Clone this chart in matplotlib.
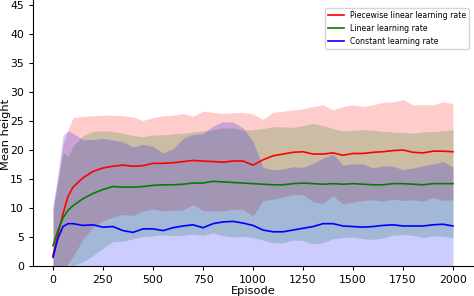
"""
Mean height per episode for three learning-rate schedules, mean +/- std bands.
"""
import matplotlib.pyplot as plt
import numpy as np

episodes = [0, 25, 50, 75, 100, 150, 200, 250, 300, 350, 400, 450, 500, 550, 600,
            650, 700, 750, 800, 850, 900, 950, 1000, 1050, 1100, 1150, 1200, 1250,
            1300, 1350, 1400, 1450, 1500, 1550, 1600, 1650, 1700, 1750, 1800, 1850,
            1900, 1950, 2000]

piecewise_mean = [1.8, 5.5, 9.0, 12.0, 13.6, 15.2, 16.3, 16.9, 17.2, 17.4, 17.2, 17.3,
                  17.7, 17.7, 17.8, 18.0, 18.2, 18.1, 18.0, 17.9, 18.1, 18.1, 17.4,
                  18.3, 19.0, 19.3, 19.6, 19.7, 19.3, 19.3, 19.5, 19.1, 19.4, 19.4,
                  19.6, 19.7, 19.9, 20.0, 19.6, 19.5, 19.8, 19.8, 19.7]
piecewise_std = [8.0, 9.5, 12.0, 11.5, 12.0, 10.6, 9.6, 9.1, 8.8, 8.5, 8.5, 7.8, 7.9,
                 8.2, 8.2, 8.3, 7.6, 8.6, 8.5, 8.4, 8.3, 8.4, 8.8, 7.0, 7.5, 7.4, 7.3,
                 7.4, 8.2, 8.5, 7.4, 8.4, 8.4, 8.1, 8.2, 8.5, 8.4, 8.7, 8.2, 8.3, 8.0,
                 8.5, 8.3]

linear_mean = [3.5, 6.2, 8.3, 9.6, 10.4, 11.6, 12.5, 13.2, 13.7, 13.6, 13.6, 13.7, 13.9,
               14.0, 14.0, 14.1, 14.3, 14.3, 14.6, 14.5, 14.4, 14.3, 14.2, 14.1, 14.0,
               14.0, 14.2, 14.3, 14.2, 14.1, 14.2, 14.1, 14.2, 14.1, 14.0, 14.0, 14.2,
               14.2, 14.1, 14.0, 14.2, 14.2, 14.2]
linear_std = [6.0, 8.5, 11.2, 9.3, 10.3, 10.9, 10.7, 10.1, 9.5, 9.3, 8.9, 8.6, 8.7, 8.6,
              8.8, 8.8, 8.8, 9.0, 8.9, 9.3, 9.4, 9.2, 9.3, 9.6, 10.0, 10.0, 9.7, 9.9,
              10.4, 10.1, 9.5, 9.2, 9.2, 9.4, 9.4, 9.2, 8.9, 8.8, 8.8, 9.1, 9.0, 9.1, 9.3]

constant_mean = [1.5, 4.8, 6.8, 7.3, 7.3, 7.0, 7.1, 6.7, 6.8, 6.1, 5.8, 6.4, 6.4, 6.1,
                 6.6, 6.9, 7.1, 6.6, 7.3, 7.6, 7.7, 7.4, 7.0, 6.2, 5.9, 5.9, 6.2, 6.5,
                 6.8, 7.3, 7.3, 6.9, 6.8, 6.7, 6.8, 7.0, 7.1, 6.9, 6.9, 6.9, 7.1, 7.2, 6.9]
constant_std = [9.0, 11.2, 15.7, 16.0, 15.6, 14.8, 14.7, 15.3, 14.9, 15.3, 14.7, 14.6,
                14.2, 13.4, 13.6, 15.1, 15.6, 16.2, 16.8, 17.3, 17.1, 16.4, 14.5, 10.8,
                10.7, 10.8, 10.9, 10.5, 10.9, 11.3, 12.0, 10.5, 10.8, 10.9, 10.1, 10.3,
                10.1, 9.7, 10.0, 10.4, 10.5, 10.8, 10.2]

series = [
    ("Piecewise linear learning rate", piecewise_mean, piecewise_std, "red"),
    ("Linear learning rate", linear_mean, linear_std, "green"),
    ("Constant learning rate", constant_mean, constant_std, "blue"),
]

fig = plt.figure(figsize=(4.74, 2.96), dpi=100)
# axes run past the top edge, like the cropped original
ax = fig.add_axes([33 / 474, 30 / 296, 440 / 474, 290 / 296])

x = np.array(episodes)
for label, mean, std, color in series:
    mean = np.array(mean)
    std = np.array(std)
    ax.plot(x, mean, color=color, linewidth=1.2, label=label)
    ax.fill_between(x, mean - std, mean + std, color=color, alpha=0.2, linewidth=0)

ax.set_xlim(-100, 2100)
ax.set_ylim(0, 50)
ax.set_xticks(range(0, 2001, 250))
ax.set_yticks(range(0, 51, 5))
ax.tick_params(labelsize=7.8, length=3, width=0.8)
ax.spines["top"].set_visible(False)
ax.spines["right"].set_visible(False)
ax.set_xlabel("Episode", fontsize=8.2, labelpad=1)
ax.set_ylabel("Mean height", fontsize=8.2)
ax.yaxis.set_label_coords(-0.05, 0.455)

ax.legend(loc="upper right", bbox_to_anchor=(469 / 474, 1 - 8 / 296),
          bbox_transform=fig.transFigure, borderaxespad=0, fontsize=5.6)

fig.savefig("out.png", dpi=100)
